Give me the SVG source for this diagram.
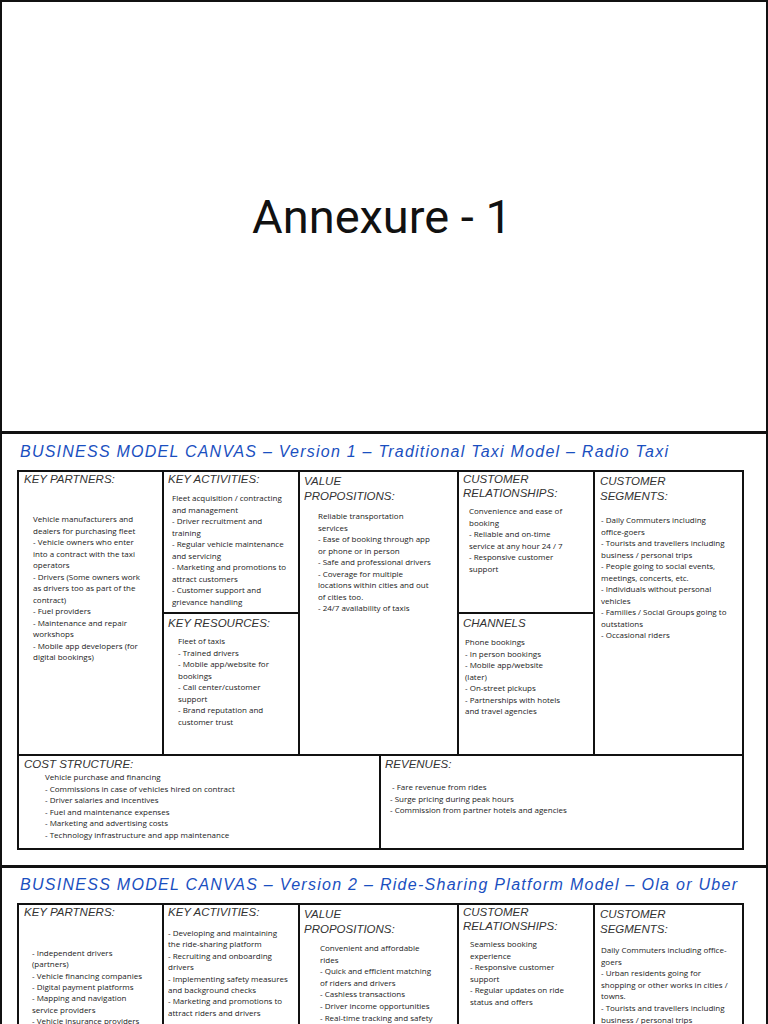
<svg xmlns="http://www.w3.org/2000/svg" width="768" height="1024" viewBox="0 0 768 1024">
<style>
.frame{fill:#fff;stroke:#111;stroke-width:2}
.cell{fill:none;stroke:#111;stroke-width:2}
.ttl{font-family:"Liberation Sans",sans-serif;font-style:italic;font-size:16px;fill:#1a4fc0}
.hd{font-family:"Liberation Sans",sans-serif;font-style:italic;font-size:11.5px;fill:#333}
.tx{font-family:"Open Sans","Liberation Sans",sans-serif;font-size:8px;fill:#222}
</style>
<rect width="768" height="1024" fill="#fff"/>
<g id="cover"><rect class="frame" x="1" y="1" width="766" height="431"/>
<text x="382" y="233" text-anchor="middle" font-family="Roboto,'Liberation Sans',sans-serif" font-size="47" fill="#111">Annexure - 1</text></g>
<g id="v1">
<rect class="frame" x="1" y="433" width="766" height="433"/>
<text class="ttl" x="20" y="457" textLength="648" lengthAdjust="spacing">BUSINESS MODEL CANVAS – Version 1 – Traditional Taxi Model – Radio Taxi</text>
<rect class="cell" x="18" y="471" width="725" height="378"/>
<path class="cell" d="M163 471V755M299 471V755M458 471V755M594 471V755M163 613H299M458 613H594M18 755H743M380 755V849"/>
<g class="hd"><text x="24" y="483">KEY PARTNERS:</text><text x="168" y="483">KEY ACTIVITIES:</text><text x="304" y="485">VALUE</text><text x="304" y="500">PROPOSITIONS:</text>
<text x="463" y="483">CUSTOMER</text><text x="463" y="497">RELATIONSHIPS:</text><text x="600" y="485">CUSTOMER</text><text x="600" y="500">SEGMENTS:</text>
<text x="168" y="627">KEY RESOURCES:</text><text x="463" y="627">CHANNELS</text><text x="24" y="768">COST STRUCTURE:</text><text x="385" y="768">REVENUES:</text></g>
<g class="tx">
<text x="33" y="522"><tspan x="33">Vehicle manufacturers and</tspan><tspan x="33" dy="11.5">dealers for purchasing fleet</tspan><tspan x="33" dy="11.5">- Vehicle owners who enter</tspan><tspan x="33" dy="11.5">into a contract with the taxi</tspan><tspan x="33" dy="11.5">operators</tspan><tspan x="33" dy="11.5">- Drivers (Some owners work</tspan><tspan x="33" dy="11.5">as drivers too as part of the</tspan><tspan x="33" dy="11.5">contract)</tspan><tspan x="33" dy="11.5">- Fuel providers</tspan><tspan x="33" dy="11.5">- Maintenance and repair</tspan><tspan x="33" dy="11.5">workshops</tspan><tspan x="33" dy="11.5">- Mobile app developers (for</tspan><tspan x="33" dy="11.5">digital bookings)</tspan></text>
<text x="172" y="501"><tspan x="172">Fleet acquisition / contracting</tspan><tspan x="172" dy="11.5">and management</tspan><tspan x="172" dy="11.5">- Driver recruitment and</tspan><tspan x="172" dy="11.5">training</tspan><tspan x="172" dy="11.5">- Regular vehicle maintenance</tspan><tspan x="172" dy="11.5">and servicing</tspan><tspan x="172" dy="11.5">- Marketing and promotions to</tspan><tspan x="172" dy="11.5">attract customers</tspan><tspan x="172" dy="11.5">- Customer support and</tspan><tspan x="172" dy="11.5">grievance handling</tspan></text>
<text x="178" y="644"><tspan x="178">Fleet of taxis</tspan><tspan x="178" dy="11.5">- Trained drivers</tspan><tspan x="178" dy="11.5">- Mobile app/website for</tspan><tspan x="178" dy="11.5">bookings</tspan><tspan x="178" dy="11.5">- Call center/customer</tspan><tspan x="178" dy="11.5">support</tspan><tspan x="178" dy="11.5">- Brand reputation and</tspan><tspan x="178" dy="11.5">customer trust</tspan></text>
<text x="318" y="519"><tspan x="318">Reliable transportation</tspan><tspan x="318" dy="11.5">services</tspan><tspan x="318" dy="11.5">- Ease of booking through app</tspan><tspan x="318" dy="11.5">or phone or in person</tspan><tspan x="318" dy="11.5">- Safe and professional drivers</tspan><tspan x="318" dy="11.5">- Coverage for multiple</tspan><tspan x="318" dy="11.5">locations within cities and out</tspan><tspan x="318" dy="11.5">of cities too.</tspan><tspan x="318" dy="11.5">- 24/7 availability of taxis</tspan></text>
<text x="469" y="514"><tspan x="469">Convenience and ease of</tspan><tspan x="469" dy="11.5">booking</tspan><tspan x="469" dy="11.5">- Reliable and on-time</tspan><tspan x="469" dy="11.5">service at any hour 24 / 7</tspan><tspan x="469" dy="11.5">- Responsive customer</tspan><tspan x="469" dy="11.5">support</tspan></text>
<text x="465" y="645"><tspan x="465">Phone bookings</tspan><tspan x="465" dy="11.5">- In person bookings</tspan><tspan x="465" dy="11.5">- Mobile app/website</tspan><tspan x="465" dy="11.5">(later)</tspan><tspan x="465" dy="11.5">- On-street pickups</tspan><tspan x="465" dy="11.5">- Partnerships with hotels</tspan><tspan x="465" dy="11.5">and travel agencies</tspan></text>
<text x="601" y="523"><tspan x="601">- Daily Commuters including</tspan><tspan x="601" dy="11.5">office-goers</tspan><tspan x="601" dy="11.5">- Tourists and travellers including</tspan><tspan x="601" dy="11.5">business / personal trips</tspan><tspan x="601" dy="11.5">- People going to social events,</tspan><tspan x="601" dy="11.5">meetings, concerts, etc.</tspan><tspan x="601" dy="11.5">- Individuals without personal</tspan><tspan x="601" dy="11.5">vehicles</tspan><tspan x="601" dy="11.5">- Families / Social Groups going to</tspan><tspan x="601" dy="11.5">outstations</tspan><tspan x="601" dy="11.5">- Occasional riders</tspan></text>
<text x="45" y="780"><tspan x="45">Vehicle purchase and financing</tspan><tspan x="45" dy="11.6">- Commissions in case of vehicles hired on contract</tspan><tspan x="45" dy="11.6">- Driver salaries and incentives</tspan><tspan x="45" dy="11.6">- Fuel and maintenance expenses</tspan><tspan x="45" dy="11.6">- Marketing and advertising costs</tspan><tspan x="45" dy="11.6">- Technology infrastructure and app maintenance</tspan></text>
<text x="390" y="790"><tspan x="392">- Fare revenue from rides</tspan><tspan x="390" dy="11.6">- Surge pricing during peak hours</tspan><tspan x="390" dy="11.6">- Commission from partner hotels and agencies</tspan></text>
</g></g>
<g id="v2">
<rect class="frame" x="1" y="867" width="766" height="170"/>
<text class="ttl" x="20" y="890" textLength="717" lengthAdjust="spacing">BUSINESS MODEL CANVAS – Version 2 – Ride-Sharing Platform Model – Ola or Uber</text>
<rect class="cell" x="18" y="904" width="725" height="140"/>
<path class="cell" d="M163 904V1030M299 904V1030M458 904V1030M594 904V1030"/>
<g class="hd"><text x="24" y="916">KEY PARTNERS:</text><text x="168" y="916">KEY ACTIVITIES:</text><text x="304" y="918">VALUE</text><text x="304" y="933">PROPOSITIONS:</text>
<text x="463" y="916">CUSTOMER</text><text x="463" y="930">RELATIONSHIPS:</text><text x="600" y="918">CUSTOMER</text><text x="600" y="933">SEGMENTS:</text></g>
<g class="tx">
<text x="32" y="956"><tspan x="32">- Independent drivers</tspan><tspan x="32" dy="11.3">(partners)</tspan><tspan x="32" dy="11.3">- Vehicle financing companies</tspan><tspan x="32" dy="11.3">- Digital payment platforms</tspan><tspan x="32" dy="11.3">- Mapping and navigation</tspan><tspan x="32" dy="11.3">service providers</tspan><tspan x="32" dy="11.3">- Vehicle insurance providers</tspan></text>
<text x="168" y="936"><tspan x="168">- Developing and maintaining</tspan><tspan x="168" dy="11.4">the ride-sharing platform</tspan><tspan x="168" dy="11.4">- Recruiting and onboarding</tspan><tspan x="168" dy="11.4">drivers</tspan><tspan x="168" dy="11.4">- Implementing safety measures</tspan><tspan x="168" dy="11.4">and background checks</tspan><tspan x="168" dy="11.4">- Marketing and promotions to</tspan><tspan x="168" dy="11.4">attract riders and drivers</tspan></text>
<text x="320" y="951"><tspan x="320">Convenient and affordable</tspan><tspan x="320" dy="11.6">rides</tspan><tspan x="320" dy="11.6">- Quick and efficient matching</tspan><tspan x="320" dy="11.6">of riders and drivers</tspan><tspan x="320" dy="11.6">- Cashless transactions</tspan><tspan x="320" dy="11.6">- Driver income opportunities</tspan><tspan x="320" dy="11.6">- Real-time tracking and safety</tspan></text>
<text x="470" y="947"><tspan x="470">Seamless booking</tspan><tspan x="470" dy="11.6">experience</tspan><tspan x="470" dy="11.6">- Responsive customer</tspan><tspan x="470" dy="11.6">support</tspan><tspan x="470" dy="11.6">- Regular updates on ride</tspan><tspan x="470" dy="11.6">status and offers</tspan></text>
<text x="601" y="953"><tspan x="601">Daily Commuters including office-</tspan><tspan x="601" dy="11.6">goers</tspan><tspan x="601" dy="11.6">- Urban residents going for</tspan><tspan x="601" dy="11.6">shopping or other works in cities /</tspan><tspan x="601" dy="11.6">towns.</tspan><tspan x="601" dy="11.6">- Tourists and travellers including</tspan><tspan x="601" dy="11.6">business / personal trips</tspan></text>
</g></g>
</svg>
